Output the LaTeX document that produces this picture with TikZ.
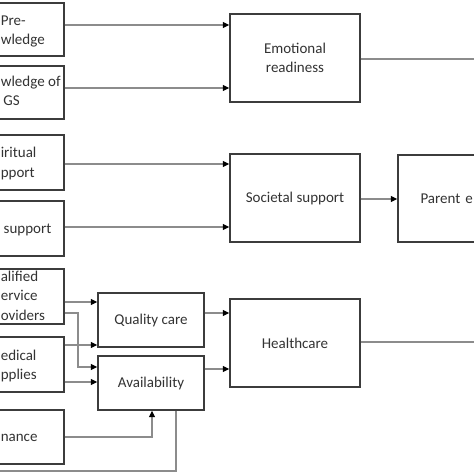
\documentclass[tikz,border=0pt]{standalone}
\usepackage{fontspec}
\setmainfont{Carlito}
\usetikzlibrary{arrows.meta}
\definecolor{boxc}{HTML}{3C3C3C}
\definecolor{linec}{HTML}{8C8C8C}
\definecolor{txt}{HTML}{333333}
\begin{document}
\begin{tikzpicture}[x=1pt,y=-1pt,
  box/.style={draw=boxc,line width=1.4pt,fill=white,inner sep=0pt,text=txt,
    font=\fontsize{15}{19.5}\selectfont,align=center},
  frag/.style={inner sep=0pt,text=txt,font=\fontsize{15}{19.5}\selectfont,anchor=base west},
  conn/.style={draw=linec,line width=1.1pt},
  arr/.style={conn,-{Triangle[length=6.5pt,width=6pt,color=black]}}]
\useasboundingbox (0,0) rectangle (474,474);
\clip (0,0) rectangle (474,474);
\fill[white] (0,0) rectangle (474,474);

% left boxes (cut off by the left edge)
\node[box,minimum width=108pt,minimum height=53pt] (b1) at (10,29.5) {};
\node[box,minimum width=108pt,minimum height=53pt] (b2) at (10,92.5) {};
\node[box,minimum width=108pt,minimum height=55pt] (b3) at (10,162.5) {};
\node[box,minimum width=108pt,minimum height=55pt] (b4) at (10,228.5) {};
\node[box,minimum width=108pt,minimum height=55pt] (b5) at (10,296.5) {};
\node[box,minimum width=108pt,minimum height=55pt] (b6) at (10,364.5) {};
\node[box,minimum width=108pt,minimum height=54pt] (b7) at (10,437) {};

\node[frag] (t1a) at (0.6,25) {Pre-};
\node[frag] (t1b) at (0.6,44) {wledge};
\node[frag] (t2a) at (0.6,86.5) {wledge of};
\node[frag,anchor=base] (t2b) at (11.5,105) {GS};
\node[frag] (t3a) at (0.6,157) {iritual};
\node[frag] (t3b) at (0.6,177) {pport};
\node[frag] (t4a) at (3.5,233.5) {support};
\node[frag] (t5a) at (0.6,281.5) {alified};
\node[frag] (t5b) at (0.6,300.5) {ervice};
\node[frag] (t5c) at (0.6,320.5) {oviders};
\node[frag] (t6a) at (0.6,360.5) {edical};
\node[frag] (t6b) at (0.6,379.5) {pplies};
\node[frag] (t7a) at (0.6,441.5) {nance};

% middle boxes
\node[box,minimum width=106pt,minimum height=54pt] (qual) at (151,320) {Quality care};
\node[box,minimum width=106pt,minimum height=54pt] (avail) at (151,383) {Availability};

\node[box,minimum width=130pt,minimum height=88pt] (emo) at (295,58) {Emotional\\readiness};
\node[box,minimum width=130pt,minimum height=88pt] (soc) at (295,198) {Societal support};
\node[box,minimum width=130pt,minimum height=88pt] (health) at (295,343) {Healthcare};

\node[box,align=left,text width=120pt,inner xsep=22.5pt,minimum height=87pt] (parent) at (480.5,198.5) {Parent e};

% free ends
\coordinate (emoOut) at (480,59);
\coordinate (healthOut) at (480,342);
\coordinate (loopEnd) at (-10,471);

% connectors
\draw[arr] (b1.east |- 0,25) -- (emo.west |- 0,25);
\draw[arr] (b2.east |- 0,88) -- (emo.west |- 0,88);
\draw[arr] (b3.east |- 0,164) -- (soc.west |- 0,164);
\draw[arr] (b4.east |- 0,227) -- (soc.west |- 0,227);
\draw[arr] (b5.east |- 0,302) -- (qual.west |- 0,302);
\draw[arr] (b5.east |- 0,313) -| (78,367) -- (avail.west |- 0,367);
\draw[arr] (b6.east |- 0,345) -- (qual.west |- 0,345);
\draw[arr] (b6.east |- 0,382) -- (avail.west |- 0,382);
\draw[arr] (b7.east |- 0,437) -| (avail.south -| 152,0);
\draw[conn] (avail.south -| 176,0) |- (loopEnd);
\draw[arr] (qual.east |- 0,313) -- (health.west |- 0,313);
\draw[arr] (avail.east |- 0,369) -- (health.west |- 0,369);
\draw[arr] (soc.east |- 0,199) -- (parent.west |- 0,199);
\draw[conn] (emo.east |- emoOut) -- (emoOut);
\draw[conn] (health.east |- healthOut) -- (healthOut);
\end{tikzpicture}
\end{document}
